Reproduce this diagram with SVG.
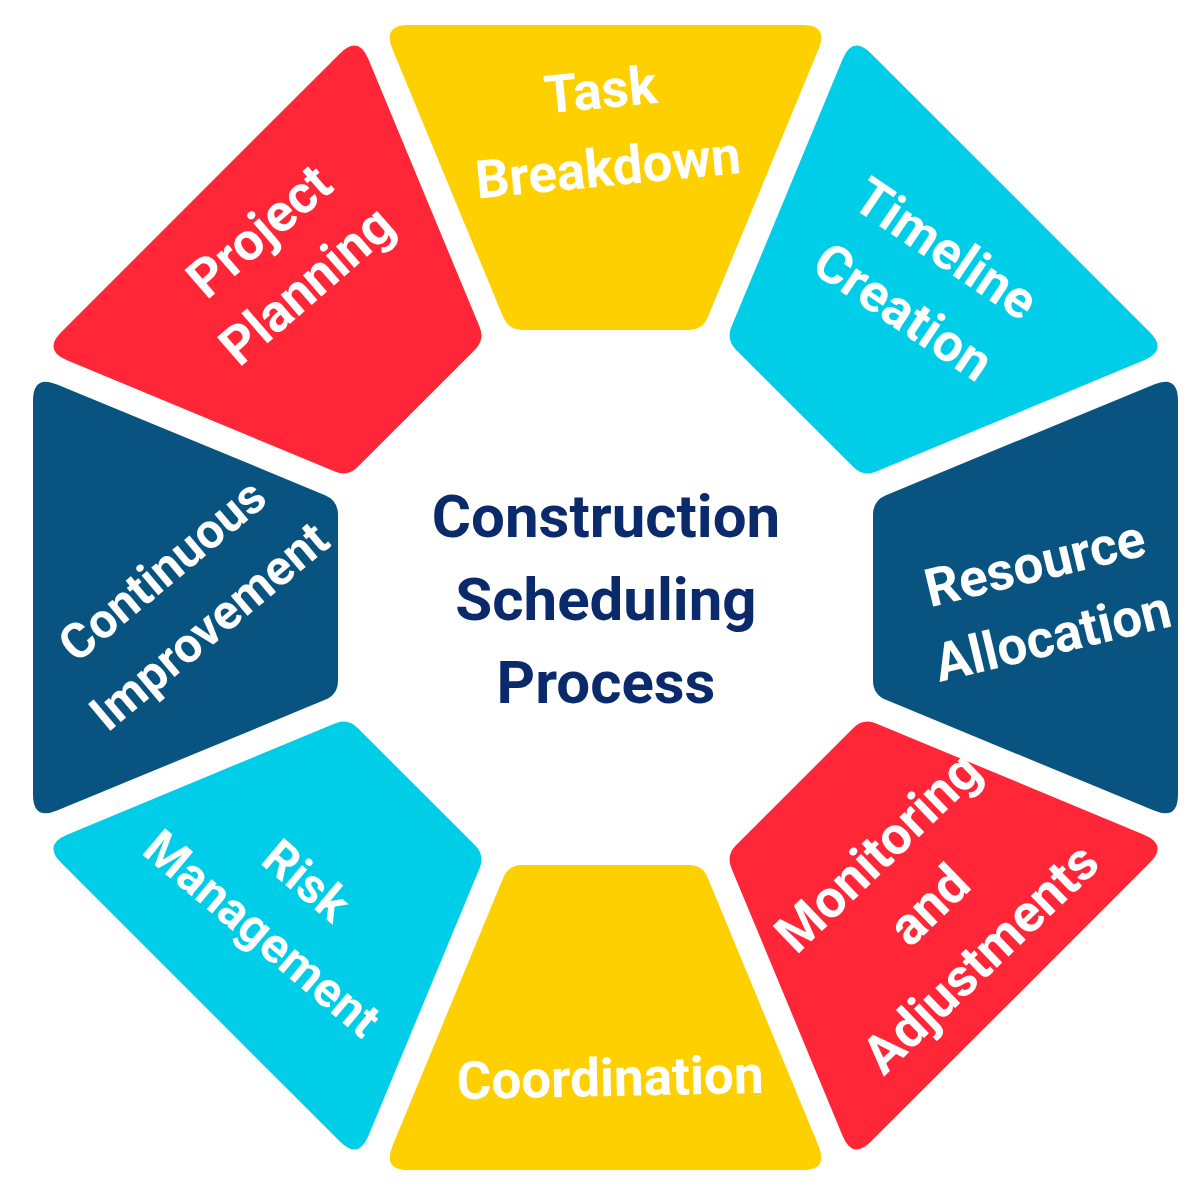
<svg xmlns="http://www.w3.org/2000/svg" xmlns:xlink="http://www.w3.org/1999/xlink" width="1200" height="1200" viewBox="0 0 1200 1200">
  <style>
    .yellow { fill: #FFD000; }
    .cyan { fill: #00CEE8; }
    .navy { fill: #08537F; }
    .red { fill: #FF2638; }
    .lbl { font-family: Roboto, "Liberation Sans", sans-serif; font-weight: 700; font-size: 53px; fill: #FFFFFF; text-anchor: middle; }
    .sm { font-size: 49px; }
    .title { font-family: Roboto, "Liberation Sans", sans-serif; font-weight: 700; font-size: 60px; fill: #0A2A6B; text-anchor: middle; }
  </style>
  <defs>
    <path id="seg" d="M -197,-572.5 L 197,-572.5 Q 223,-572.5 213.07,-548.47 L 102.35,-280.44 Q 97,-267.5 83,-267.5 L -83,-267.5 Q -97,-267.5 -102.35,-280.44 L -213.07,-548.47 Q -223,-572.5 -197,-572.5 Z"/>
  </defs>
  <rect width="1200" height="1200" fill="#FFFFFF"/>
  <g id="connectors"/>
  <g id="task-breakdown">
    <use xlink:href="#seg" class="yellow" transform="translate(605.5,597.5) rotate(0)"/>
    <g transform="translate(604,127) rotate(-5.5)">
      <text class="lbl" x="0" y="-19">Task</text>
      <text class="lbl" x="0" y="59">Breakdown</text>
    </g>
  </g>
  <g id="timeline-creation">
    <use xlink:href="#seg" class="cyan" transform="translate(605.5,597.5) rotate(45)"/>
    <g transform="translate(926,278) rotate(34)">
      <text class="lbl" x="0" y="-17">Timeline</text>
      <text class="lbl" x="0" y="59">Creation</text>
    </g>
  </g>
  <g id="resource-allocation">
    <use xlink:href="#seg" class="navy" transform="translate(605.5,597.5) rotate(90)"/>
    <g transform="translate(1043,597) rotate(-13.5)">
      <text class="lbl" x="0" y="-16.5">Resource</text>
      <text class="lbl" x="0" y="58.5">Allocation</text>
    </g>
  </g>
  <g id="monitoring-adjustments">
    <use xlink:href="#seg" class="red" transform="translate(605.5,597.5) rotate(135)"/>
    <g transform="translate(927,903) rotate(-44)">
      <text class="lbl" x="0" y="-53">Monitoring</text>
      <text class="lbl" x="0" y="21">and</text>
      <text class="lbl" x="0" y="95">Adjustments</text>
    </g>
  </g>
  <g id="coordination">
    <use xlink:href="#seg" class="yellow" transform="translate(605.5,597.5) rotate(180)"/>
    <g transform="translate(610,1076) rotate(-1.2)">
      <text class="lbl" x="0" y="20">Coordination</text>
    </g>
  </g>
  <g id="risk-management">
    <use xlink:href="#seg" class="cyan" transform="translate(605.5,597.5) rotate(225)"/>
    <g transform="translate(286,905) rotate(40)">
      <text class="lbl sm" x="0" y="-15">Risk</text>
      <text class="lbl sm" x="0" y="54">Management</text>
    </g>
  </g>
  <g id="continuous-improvement">
    <use xlink:href="#seg" class="navy" transform="translate(605.5,597.5) rotate(270)"/>
    <g transform="translate(184,596) rotate(-40)">
      <text class="lbl sm" x="0" y="-17">Continuous</text>
      <text class="lbl sm" x="0" y="56">Improvement</text>
    </g>
  </g>
  <g id="project-planning">
    <use xlink:href="#seg" class="red" transform="translate(605.5,597.5) rotate(315)"/>
    <g transform="translate(281,256) rotate(-41)">
      <text class="lbl" x="0" y="-15">Project</text>
      <text class="lbl" x="0" y="57">Planning</text>
    </g>
  </g>
  <g id="center-title">
    <text class="title" x="606" y="537">Construction</text>
    <text class="title" x="606" y="620">Scheduling</text>
    <text class="title" x="606" y="703">Process</text>
  </g>
</svg>
